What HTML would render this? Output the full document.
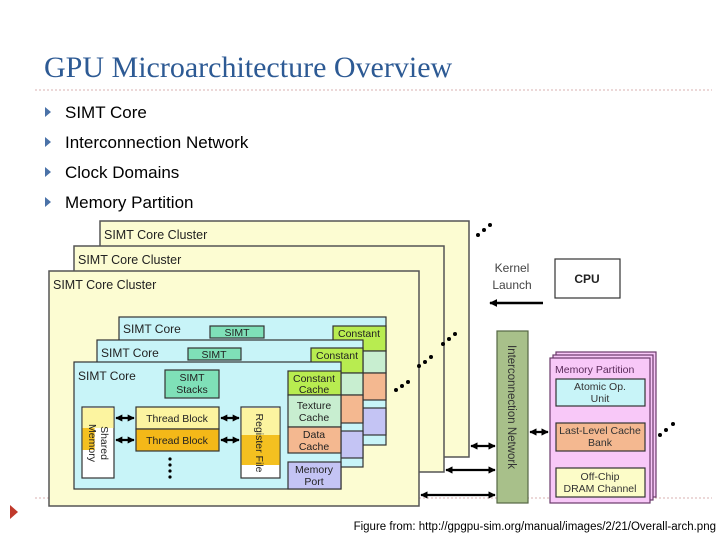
<!DOCTYPE html>
<html><head><meta charset="utf-8"><style>
html,body{margin:0;padding:0;background:#fff;}
svg{display:block;}
text{font-family:"Liberation Sans",sans-serif;}
</style></head><body>
<svg width="720" height="540" viewBox="0 0 720 540" xmlns="http://www.w3.org/2000/svg">
<defs>
<marker id="ah" viewBox="0 0 10 10" refX="9" refY="5" markerWidth="3.2" markerHeight="3.2" orient="auto-start-reverse"><path d="M0,0 L10,5 L0,10 z" fill="#000"/></marker>
</defs>
<text x="44" y="77" style="font-family:'Liberation Serif',serif" font-size="30" fill="#2d5a94">GPU Microarchitecture Overview</text>
<line x1="35" y1="90" x2="712" y2="90" stroke="#d8b0b0" stroke-width="1" stroke-dasharray="2,2"/>
<g fill="#4a72a8">
<path d="M45,107 L51,112 L45,117z"/><path d="M45,137 L51,142 L45,147z"/><path d="M45,167 L51,172 L45,177z"/><path d="M45,197 L51,202 L45,207z"/>
</g>
<g font-size="17" fill="#000">
<text x="65" y="118">SIMT Core</text>
<text x="65" y="148">Interconnection Network</text>
<text x="65" y="178">Clock Domains</text>
<text x="65" y="208">Memory Partition</text>
</g>
<line x1="35" y1="498" x2="712" y2="498" stroke="#d8b0b0" stroke-width="1" stroke-dasharray="2,2"/>
<path d="M10,505 L18,512 L10,519z" fill="#c0392b"/>
<text x="716" y="530" font-size="11.5" text-anchor="end" fill="#000">Figure from:  http://gpgpu-sim.org/manual/images/2/21/Overall-arch.png</text>

<g stroke="#555" stroke-width="1.5" fill="#fcfcd2">
<rect x="100" y="221" width="369" height="236"/>
<rect x="74" y="246" width="370" height="226"/>
<rect x="49" y="271" width="370" height="235"/>
</g>
<g font-size="12.5" fill="#222">
<text x="104" y="239">SIMT Core Cluster</text>
<text x="78" y="264">SIMT Core Cluster</text>
<text x="53" y="289">SIMT Core Cluster</text>
</g>
<g fill="#000">
<circle cx="478" cy="235" r="2"/><circle cx="484" cy="230" r="2"/><circle cx="490" cy="225" r="2"/>
<circle cx="443" cy="344" r="2"/><circle cx="449" cy="339" r="2"/><circle cx="455" cy="334" r="2"/>
<circle cx="419" cy="366" r="2"/><circle cx="425" cy="362" r="2"/><circle cx="431" cy="357" r="2"/>
<circle cx="396" cy="390" r="2"/><circle cx="402" cy="386" r="2"/><circle cx="408" cy="382" r="2"/>
<circle cx="660" cy="435" r="2"/><circle cx="666" cy="430" r="2"/><circle cx="673" cy="424" r="2"/>
</g>

<g stroke="#333" stroke-width="1.2">
<rect x="119" y="317" width="267" height="128" fill="#c8f4f8"/>
<rect x="210" y="326" width="54" height="12" fill="#7fe0b8"/>
<rect x="333" y="326" width="53" height="25" fill="#b8ec50"/>
<rect x="333" y="351" width="53" height="22" fill="#c8eed0"/>
<rect x="333" y="373" width="53" height="27" fill="#f4b890"/>
<rect x="333" y="408" width="53" height="27" fill="#c4c4f4"/>
</g>
<g font-size="12" fill="#222">
<text x="123" y="333">SIMT Core</text>
<text x="237" y="336" font-size="10.5" text-anchor="middle">SIMT</text>
<text x="359" y="337" font-size="10.5" text-anchor="middle">Constant</text>
</g>
<g stroke="#333" stroke-width="1.2">
<rect x="97" y="340" width="266" height="127" fill="#c8f4f8"/>
<rect x="188" y="348" width="53" height="12" fill="#7fe0b8"/>
<rect x="311" y="348" width="52" height="25" fill="#b8ec50"/>
<rect x="311" y="373" width="52" height="22" fill="#c8eed0"/>
<rect x="311" y="395" width="52" height="28" fill="#f4b890"/>
<rect x="311" y="431" width="52" height="27" fill="#c4c4f4"/>
</g>
<g font-size="12" fill="#222">
<text x="101" y="357">SIMT Core</text>
<text x="214" y="358" font-size="10.5" text-anchor="middle">SIMT</text>
<text x="337" y="359" font-size="10.5" text-anchor="middle">Constant</text>
</g>
<g stroke="#333" stroke-width="1.2">
<rect x="74" y="362" width="267" height="127" fill="#c8f4f8"/>
<rect x="165" y="370" width="54" height="28" fill="#7fe0b8"/>
<rect x="288" y="371" width="53" height="24" fill="#b8ec50"/>
<rect x="288" y="395" width="53" height="32" fill="#c8eed0"/>
<rect x="288" y="427" width="53" height="26" fill="#f4b890"/>
<rect x="288" y="462" width="53" height="27" fill="#c4c4f4"/>
<rect x="82" y="407" width="32" height="71" fill="#fff"/>
<rect x="241" y="407" width="39" height="71" fill="#fff"/>
</g>
<rect x="82.6" y="408" width="31" height="20" fill="#fcf4a0"/>
<rect x="82.6" y="428" width="12" height="22" fill="#f4c020"/>
<rect x="241.6" y="408" width="38" height="27" fill="#fcf4a0"/>
<rect x="241.6" y="435" width="38" height="30" fill="#f4c020"/>
<g stroke="#333" stroke-width="1.2">
<rect x="136" y="407" width="83" height="22" fill="#fcf4a0"/>
<rect x="136" y="429" width="83" height="22" fill="#f4b818"/>
</g>
<g font-size="10.5" fill="#222" text-anchor="middle">
<text x="192" y="381">SIMT</text><text x="192" y="393">Stacks</text>
<text x="314" y="382">Constant</text><text x="314" y="393">Cache</text>
<text x="314" y="409">Texture</text><text x="314" y="421">Cache</text>
<text x="314" y="438">Data</text><text x="314" y="450">Cache</text>
<text x="314" y="473">Memory</text><text x="314" y="485">Port</text>
<text x="177" y="422">Thread Block</text>
<text x="177" y="444">Thread Block</text>
<text transform="translate(101,443) rotate(90)">Shared</text>
<text transform="translate(89,443) rotate(90)">Memory</text>
<text transform="translate(256,443) rotate(90)">Register File</text>
</g>
<text x="78" y="380" font-size="12" fill="#222">SIMT Core</text>
<g fill="#000"><circle cx="170" cy="459" r="1.6"/><circle cx="170" cy="465" r="1.6"/><circle cx="170" cy="471" r="1.6"/><circle cx="170" cy="477" r="1.6"/></g>
<g stroke="#000" stroke-width="2.2" marker-start="url(#ah)" marker-end="url(#ah)">
<line x1="116" y1="418" x2="134" y2="418"/><line x1="116" y1="440" x2="134" y2="440"/>
<line x1="221" y1="418" x2="239" y2="418"/><line x1="221" y1="440" x2="239" y2="440"/>
</g>

<rect x="555" y="259" width="65" height="39" fill="#fff" stroke="#333" stroke-width="1.2"/>
<text x="587" y="283" font-size="12" font-weight="bold" text-anchor="middle" fill="#222">CPU</text>
<text x="512" y="272" font-size="12" text-anchor="middle" fill="#444">Kernel</text>
<text x="512" y="289" font-size="12" text-anchor="middle" fill="#444">Launch</text>
<line x1="543" y1="303" x2="490" y2="303" stroke="#000" stroke-width="2.5" marker-end="url(#ah)"/>

<rect x="497" y="331" width="31" height="172" fill="#a8c08a" stroke="#556644" stroke-width="1.2"/>
<text transform="translate(508,345) rotate(90)" font-size="11.5" fill="#333">Interconnection Network</text>

<g stroke="#000" stroke-width="2.3" marker-start="url(#ah)" marker-end="url(#ah)">
<line x1="471" y1="446" x2="495" y2="446"/>
<line x1="446" y1="470" x2="495" y2="470"/>
<line x1="421" y1="495" x2="495" y2="495"/>
<line x1="530" y1="432" x2="548" y2="432"/>
<line x1="600" y1="407" x2="600" y2="421"/>
<line x1="600" y1="452" x2="600" y2="466"/>
</g>

<g stroke="#6a3a6a" stroke-width="1.2" fill="#f8c8f8">
<rect x="556" y="352" width="100" height="145"/>
<rect x="553" y="355" width="100" height="145"/>
<rect x="550" y="358" width="100" height="145"/>
</g>
<text x="555" y="373" font-size="10.5" fill="#5a2a5a">Memory Partition</text>
<g stroke="#333" stroke-width="1.2">
<rect x="556" y="379" width="89" height="27" fill="#c8f4f8"/>
<rect x="556" y="423" width="89" height="28" fill="#f4b890"/>
<rect x="556" y="468" width="89" height="29" fill="#fcfcc8"/>
</g>
<g font-size="10.5" fill="#333" text-anchor="middle">
<text x="600" y="390">Atomic Op.</text><text x="600" y="402">Unit</text>
<text x="600" y="434">Last-Level Cache</text><text x="600" y="446">Bank</text>
<text x="600" y="480">Off-Chip</text><text x="600" y="492">DRAM Channel</text>
</g>
</svg>
</body></html>
